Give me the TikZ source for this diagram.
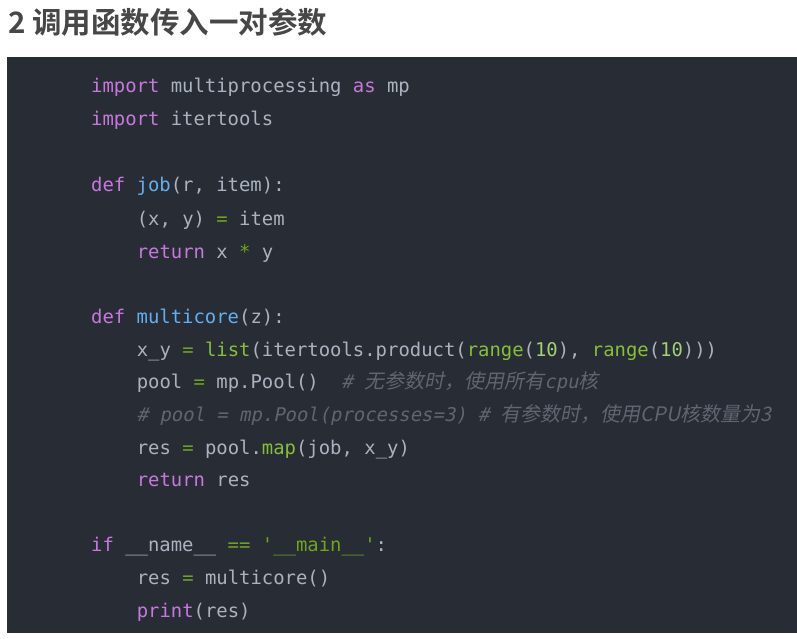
\documentclass[tikz,border=0pt]{standalone}
\usepackage{fontspec}
\setmonofont{DejaVu Sans Mono}
\newfontfamily\cjk{Noto Sans CJK SC}
\newfontfamily\cjkb{Noto Sans CJK SC Bold}
\newfontfamily\cjki[FakeSlant=0.2]{Noto Sans CJK SC}
\newfontfamily\monoi[FakeSlant=0.2]{DejaVu Sans Mono}
\definecolor{bgc}{HTML}{282C34}
\definecolor{txt}{HTML}{ABB2BF}
\definecolor{kw}{HTML}{C678DD}
\definecolor{fn}{HTML}{61AFEF}
\definecolor{op}{HTML}{6FA51E}
\definecolor{bi}{HTML}{86BF3A}
\definecolor{num}{HTML}{A3CF76}
\definecolor{cmt}{HTML}{5F6672}
\definecolor{ttl}{HTML}{474747}
\newcommand{\K}[1]{\textcolor{kw}{#1}}
\newcommand{\F}[1]{\textcolor{fn}{#1}}
\newcommand{\Op}[1]{\textcolor{op}{#1}}
\newcommand{\B}[1]{\textcolor{bi}{#1}}
\newcommand{\N}[1]{\textcolor{num}{#1}}
\newcommand{\C}[1]{{\color{cmt}#1}}
\newcommand{\Z}[1]{{\fontsize{20}{20}\cjki #1}}
\begin{document}
\begin{tikzpicture}[x=1pt,y=-1pt,
  code/.style={anchor=base west,inner sep=0,text=txt,font=\fontsize{18.9}{20}\ttfamily}]
\useasboundingbox (0,0) rectangle (797,639);
\fill[white] (0,0) rectangle (797,639);
\fill[bgc] (7,57) rectangle (797,633);
\node[anchor=base west,inner sep=0,text=ttl,font=\fontsize{29.5}{32}\cjkb] (title) at (8,34) {2 调用函数传入一对参数};
\node[code] (l1) at (91,93) {\K{import} multiprocessing \K{as} mp};
\node[code] (l2) at (91,126) {\K{import} itertools};
\node[code] (l4) at (91,192) {\K{def} \F{job}(r, item):};
\node[code] (l5) at (136.6,225) {(x, y) \Op{=} item};
\node[code] (l6) at (136.6,258) {\K{return} x \Op{*} y};
\node[code] (l8) at (91,323) {\K{def} \F{multicore}(z):};
\node[code] (l9) at (136.6,356) {x\_y \Op{=} \B{list}(itertools.product(\B{range}(\N{10}), \B{range}(\N{10})))};
\node[code] (l10) at (136.6,388) {pool \Op{=} mp.Pool()\ \ \C{{\monoi\#} \Z{无参数时，使用所有}{\monoi cpu}\Z{核}}};
\node[code] (l11) at (136.6,421) {\C{{\monoi\# pool = mp.Pool(processes=3) \#} \Z{有参数时，使用CPU核数量为3}}};
\node[code] (l12) at (136.6,454) {res \Op{=} pool.\B{map}(job, x\_y)};
\node[code] (l13) at (136.6,486) {\K{return} res};
\node[code] (l15) at (91,551) {\K{if} \_\_name\_\_ \Op{==} \Op{'\_\_main\_\_'}:};
\node[code] (l16) at (136.6,584) {res \Op{=} multicore()};
\node[code] (l17) at (136.6,617) {\K{print}(res)};
\end{tikzpicture}
\end{document}
